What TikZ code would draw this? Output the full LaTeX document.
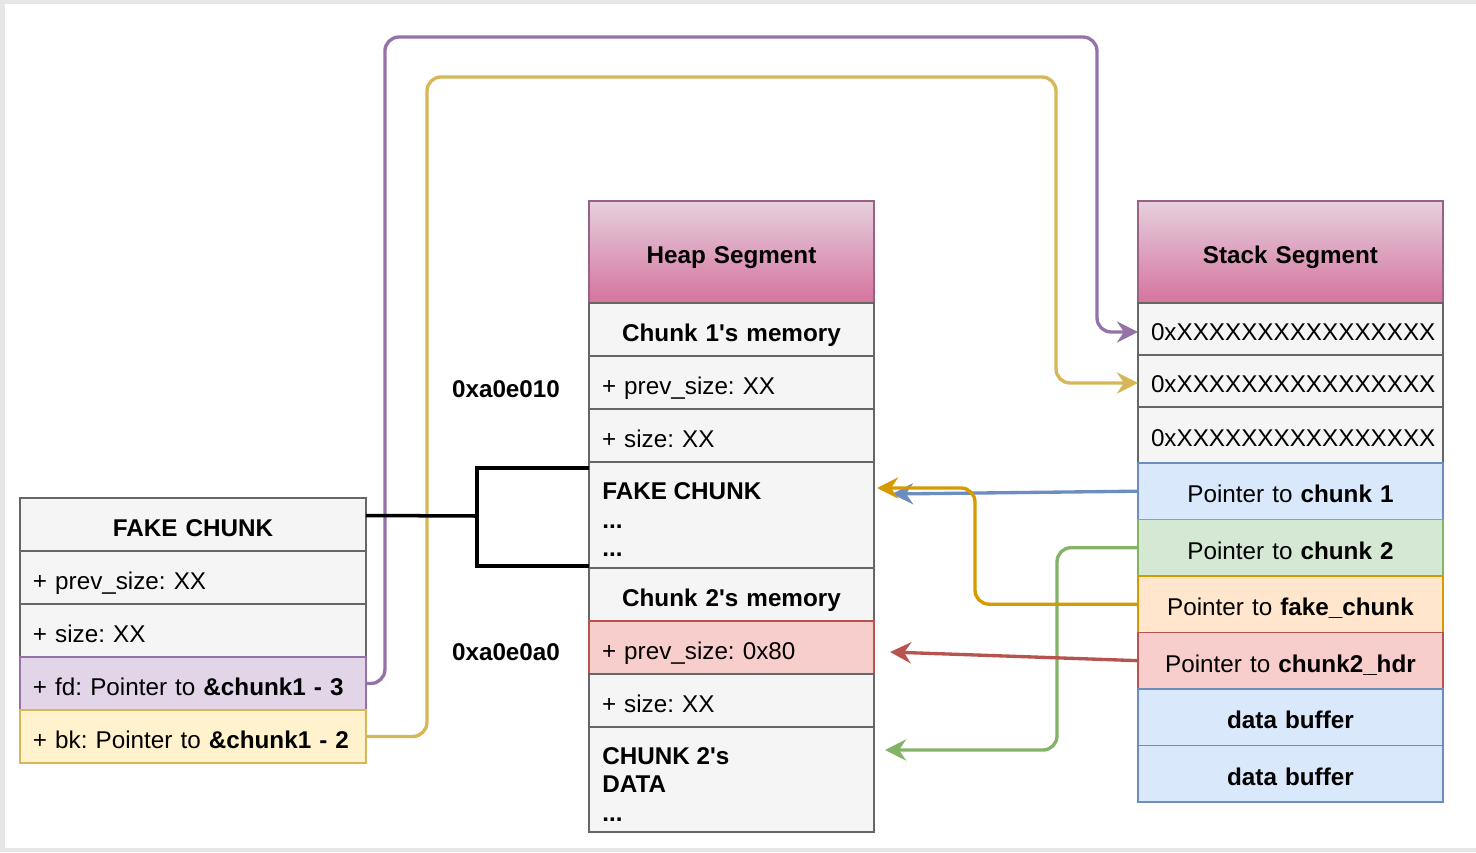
\documentclass[tikz,border=0pt]{standalone}
\usepackage{fontspec}
\setmainfont{Liberation Sans}
\usetikzlibrary{positioning,arrows.meta,calc}
\definecolor{FRAMEGRAY}{HTML}{E6E6E6}
\definecolor{GRAYFILL}{HTML}{F5F5F5}
\definecolor{GRAYLINE}{HTML}{666666}
\definecolor{PINKTOP}{HTML}{E6D0DE}
\definecolor{PINKBOT}{HTML}{D5739D}
\definecolor{PINKLINE}{HTML}{996185}
\definecolor{BLUEFILL}{HTML}{DAE8FC}
\definecolor{BLUELINE}{HTML}{6C8EBF}
\definecolor{GREENFILL}{HTML}{D5E8D4}
\definecolor{GREENLINE}{HTML}{82B366}
\definecolor{ORANGEFILL}{HTML}{FFE6CC}
\definecolor{ORANGELINE}{HTML}{D79B00}
\definecolor{REDFILL}{HTML}{F8CECC}
\definecolor{REDLINE}{HTML}{B85450}
\definecolor{PURPLEFILL}{HTML}{E1D5E7}
\definecolor{PURPLELINE}{HTML}{9673A6}
\definecolor{YELLOWFILL}{HTML}{FFF2CC}
\definecolor{YELLOWLINE}{HTML}{D6B656}
\newcommand{\dfont}{\fontsize{13.8}{16.4}\selectfont\frenchspacing}
\newcommand{\qs}{\textquotesingle}

\begin{document}
\begin{tikzpicture}[x=0.02cm, y=-0.02cm, font=\dfont]
\tikzstyle{cell}=[draw=GRAYLINE, fill=GRAYFILL, line width=1pt, rectangle, inner xsep=0.26cm, inner ysep=0pt, outer sep=0pt, text height=13.3pt, text depth=0pt]
\tikzstyle{fake cell}=[cell, minimum width=6.92cm, minimum height=1.06cm, text width=6.4cm, align=left]
\tikzstyle{heap cell}=[cell, minimum width=5.7cm, minimum height=1.06cm, text width=5.18cm, align=left]
\tikzstyle{stack cell}=[cell, minimum width=6.1cm, minimum height=1.13cm, text width=5.58cm, align=center]
\tikzstyle{segment head}=[draw=PINKLINE, top color=PINKTOP, bottom color=PINKBOT, minimum height=2.04cm, align=center, font=\dfont\bfseries]
\tikzstyle{title}=[font=\dfont\bfseries, align=center]
\tikzstyle{note}=[font=\dfont\bfseries, align=left, inner sep=0pt]
\tikzstyle{link}=[line width=1.9pt, rounded corners=8pt, -{Stealth[length=12pt, width=12pt, inset=4pt]}]
\tikzstyle{bracket}=[line width=2pt, black]

% frame
\useasboundingbox (0,0) rectangle (1476,852);
\fill[FRAMEGRAY] (0,0) rectangle (1476,852);
\fill[white] (5,4) rectangle (1476,848);

% fake chunk
\node[fake cell, title, anchor=north west] (fkHead) at (20,498) {FAKE CHUNK};
\node[fake cell, below=0pt of fkHead] (fkPrev) {+ prev\_size: XX};
\node[fake cell, below=0pt of fkPrev] (fkSize) {+ size: XX};
\node[fake cell, draw=PURPLELINE, fill=PURPLEFILL, below=0pt of fkSize] (fkFd) {+ fd: Pointer to \textbf{\&chunk1 - 3}};
\node[fake cell, draw=YELLOWLINE, fill=YELLOWFILL, below=0pt of fkFd] (fkBk) {+ bk: Pointer to \textbf{\&chunk1 - 2}};

% heap
\node[heap cell, segment head, anchor=north west] (heapHead) at (589,201) {Heap Segment};
\node[heap cell, title, below=0pt of heapHead] (heapC1) {Chunk 1\qs s memory};
\node[heap cell, below=0pt of heapC1] (heapPrev1) {+ prev\_size: XX};
\node[heap cell, below=0pt of heapPrev1] (heapSize1) {+ size: XX};
\node[heap cell, minimum height=2.12cm, below=0pt of heapSize1] (heapFake) {};
\node[heap cell, title, below=0pt of heapFake] (heapC2) {Chunk 2\qs s memory};
\node[heap cell, draw=REDLINE, fill=REDFILL, below=0pt of heapC2] (heapPrev2) {+ prev\_size: 0x80};
\node[heap cell, below=0pt of heapPrev2] (heapSize2) {+ size: XX};
\node[heap cell, minimum height=2.1cm, below=0pt of heapSize2] (heapData) {};
\node[note, anchor=north west] (heapFakeTxt) at ([xshift=0.26cm, yshift=-0.4cm]heapFake.north west) {FAKE CHUNK\\...\\...};
\node[note, anchor=north west] (heapDataTxt) at ([xshift=0.26cm, yshift=-0.4cm]heapData.north west) {CHUNK 2\qs s\\DATA\\...};

\node[note] (addrA) at (506,389) {0xa0e010};
\node[note] (addrB) at (506,652) {0xa0e0a0};

% stack
\node[stack cell, segment head, anchor=north west] (stHead) at (1138,201) {Stack Segment};
\node[stack cell, minimum height=1.04cm, below=0pt of stHead] (stAddr1) {0xXXXXXXXXXXXXXXXX};
\node[stack cell, minimum height=1.04cm, below=0pt of stAddr1] (stAddr2) {0xXXXXXXXXXXXXXXXX};
\node[stack cell, minimum height=1.12cm, below=0pt of stAddr2] (stAddr3) {0xXXXXXXXXXXXXXXXX};
\node[stack cell, draw=BLUELINE, fill=BLUEFILL, below=0pt of stAddr3] (stPtr1) {Pointer to \textbf{chunk 1}};
\node[stack cell, draw=GREENLINE, fill=GREENFILL, below=0pt of stPtr1] (stPtr2) {Pointer to \textbf{chunk 2}};
\node[stack cell, draw=ORANGELINE, fill=ORANGEFILL, below=0pt of stPtr2] (stFake) {Pointer to \textbf{fake\_chunk}};
\node[stack cell, draw=REDLINE, fill=REDFILL, below=0pt of stFake] (stHdr) {Pointer to \textbf{chunk2\_hdr}};
\node[stack cell, title, draw=BLUELINE, fill=BLUEFILL, below=0pt of stHdr] (stBuf1) {data buffer};
\node[stack cell, title, draw=BLUELINE, fill=BLUEFILL, below=0pt of stBuf1] (stBuf2) {data buffer};

% fd / bk links
\draw[link, PURPLELINE] (fkFd.east) -- ++(19,0) |- (1097,37) |- ([yshift=-0.06cm]stAddr1.west);
\draw[link, YELLOWLINE] (fkBk.east) -- ++(61,0) |- (1056,77) |- ([yshift=-0.04cm]stAddr2.west);

% fake chunk bracket
\coordinate (brk) at (477,516);
\draw[bracket] ([yshift=0.18cm]fkHead.east) -- (brk);
\draw[bracket] ([yshift=-0.12cm]heapFake.north west) -| (brk) |- ([yshift=0.04cm]heapFake.south west);

% stack pointers
\coordinate (blueTip) at (892,494);
\coordinate (orangeTip) at (877,488);
\coordinate (redTip) at (890,652);
\coordinate (greenTip) at (885,750);
\draw[link, BLUELINE] (stPtr1.west) -- (blueTip);
\draw[link, GREENLINE] (stPtr2.west) -| (1057,750) -- (greenTip);
\draw[link, ORANGELINE] (stFake.west) -| (975,488) -- (orangeTip);
\draw[link, REDLINE] (stHdr.west) -- (redTip);
\end{tikzpicture}
\end{document}
